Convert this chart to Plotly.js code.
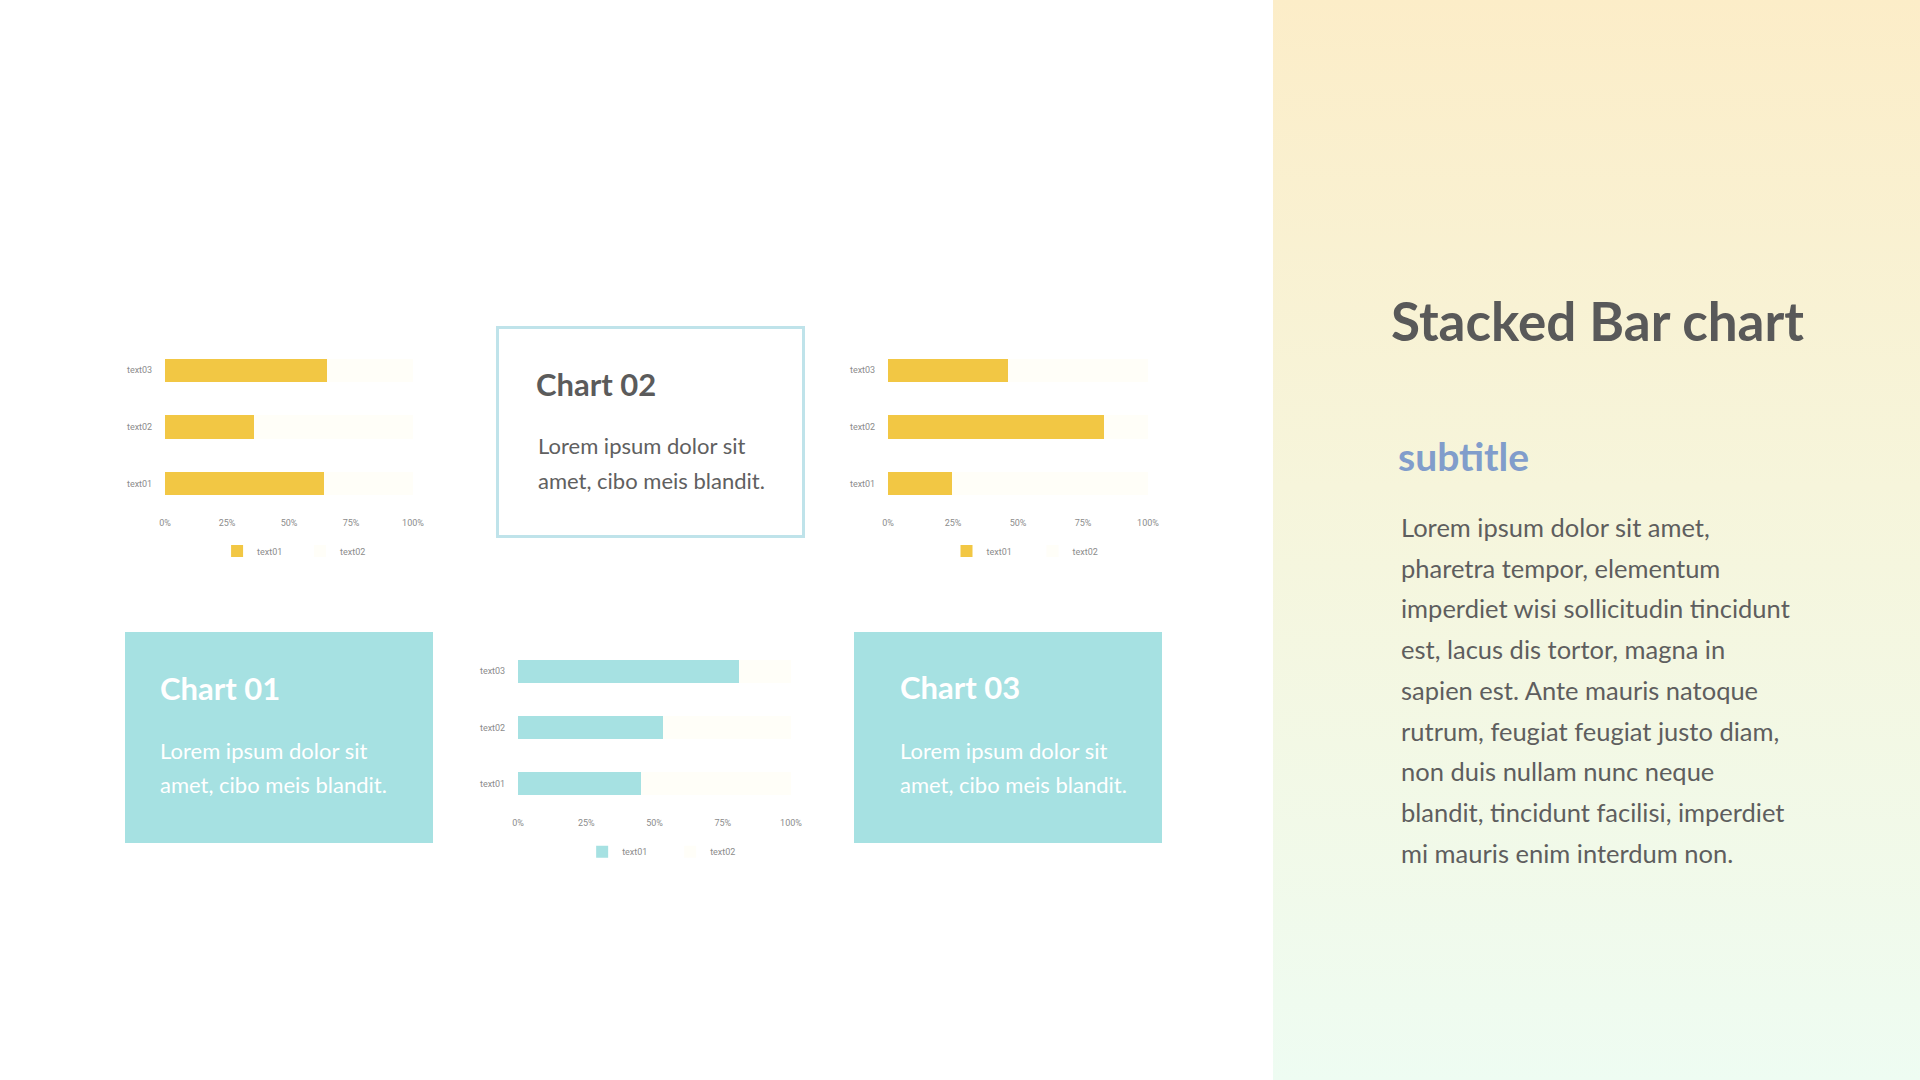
<!DOCTYPE html>
<html>
<head>
<meta charset="utf-8">
<script src="https://cdn.plot.ly/plotly-3.0.1.min.js"></script>
<style>
  html, body { margin: 0; padding: 0; }
  body { width: 1920px; height: 1080px; position: relative; overflow: hidden; background: #ffffff; font-family: 'Lato', 'Open Sans', sans-serif; }
  .panel { position: absolute; left: 1273px; top: 0; width: 647px; height: 1080px;
           background: linear-gradient(to bottom, #fcedc8 0%, #f6f5db 45%, #eefcf2 100%); }
  .abs { position: absolute; white-space: nowrap; }
  .box { position: absolute; box-sizing: border-box; }
  .chart { position: absolute; }
</style>
</head>
<body>
<div class="panel"></div>

<div class="abs" style="left:1391px; top:289px; font-size:53px; line-height:63px; font-weight:700; color:#595959;">Stacked Bar chart</div>
<div class="abs" style="left:1398px; top:433px; font-size:39px; line-height:46px; font-weight:700; color:#819dcb;">subtitle</div>
<div class="abs" style="left:1401px; top:507px; font-size:25.5px; line-height:40.7px; color:#5e5e5e;">
Lorem ipsum dolor sit amet,<br>pharetra tempor, elementum<br>imperdiet wisi sollicitudin tincidunt<br>est, lacus dis tortor, magna in<br>sapien est. Ante mauris natoque<br>rutrum, feugiat feugiat justo diam,<br>non duis nullam nunc neque<br>blandit, tincidunt facilisi, imperdiet<br>mi mauris enim interdum non.
</div>

<!-- text boxes -->
<div class="box" style="left:496px; top:326px; width:309px; height:212px; border:3px solid #bfe3ea; background:#fff;"></div>
<div class="abs" style="left:536px; top:366px; font-size:31px; line-height:37px; font-weight:700; color:#5b5b5b;">Chart 02</div>
<div class="abs" style="left:538px; top:428px; font-size:22px; line-height:35px; color:#606060;">Lorem ipsum dolor sit<br>amet, cibo meis blandit.</div>

<div class="box" style="left:125px; top:632px; width:308px; height:211px; background:#a6e1e2;"></div>
<div class="abs" style="left:160px; top:670px; font-size:31px; line-height:37px; font-weight:700; color:#ffffff;">Chart 01</div>
<div class="abs" style="left:160px; top:734px; font-size:22px; line-height:34px; color:#ffffff;">Lorem ipsum dolor sit<br>amet, cibo meis blandit.</div>

<div class="box" style="left:854px; top:632px; width:308px; height:211px; background:#a6e1e2;"></div>
<div class="abs" style="left:900px; top:669px; font-size:31px; line-height:37px; font-weight:700; color:#ffffff;">Chart 03</div>
<div class="abs" style="left:900px; top:734px; font-size:22px; line-height:34px; color:#ffffff;">Lorem ipsum dolor sit<br>amet, cibo meis blandit.</div>

<div id="chart-a" class="chart" style="left:115px; top:330px; width:320px; height:240px;"></div>
<div id="chart-b" class="chart" style="left:470px; top:630px; width:340px; height:240px;"></div>
<div id="chart-c" class="chart" style="left:840px; top:330px; width:320px; height:240px;"></div>

<script>
// Categories (bottom to top on the y axis)
const categories = ['text01', 'text02', 'text03'];
const seriesNames = ['text01', 'text02'];
const tickLabels = ['0%', '25%', '50%', '75%', '100%'];
const tickValues = [0, 25, 50, 75, 100];

// Share of text01 per category, text02 is the rest of 100%
const chartA_text01 = [64, 36, 65.5];
const chartA_text02 = [36, 64, 34.5];
const chartB_text01 = [45, 53, 81];
const chartB_text02 = [55, 47, 19];
const chartC_text01 = [24.5, 83, 46];
const chartC_text02 = [75.5, 17, 54];

const yellow = '#f2c744';
const teal = '#a6e1e2';
const paleFill = '#fffef8';

function makeChart(containerId, first, second, color, opts) {
  const traces = [
    {
      type: 'bar', orientation: 'h', name: seriesNames[0],
      y: categories, x: first,
      marker: { color: color, line: { width: 0 } },
      hoverinfo: 'skip'
    },
    {
      type: 'bar', orientation: 'h', name: seriesNames[1],
      y: categories, x: second,
      marker: { color: paleFill, line: { width: 0 } },
      hoverinfo: 'skip'
    }
  ];

  Plotly.newPlot(containerId, traces, {
    barmode: 'stack',
    bargap: 0.59,
    width: opts.width,
    height: 240,
    margin: { l: opts.l, r: opts.r, t: opts.t, b: opts.b, pad: 0, autoexpand: false },
    paper_bgcolor: 'rgba(0,0,0,0)',
    plot_bgcolor: 'rgba(0,0,0,0)',
    font: { family: 'Roboto, sans-serif', size: 9, color: '#8c8c8c' },
    xaxis: {
      range: [0, 100],
      tickvals: tickValues,
      ticktext: tickLabels,
      showgrid: false, zeroline: false, showline: false,
      ticks: 'outside', ticklen: 2, tickcolor: 'rgba(0,0,0,0)',
      tickfont: { size: 9, color: '#8c8c8c' },
      fixedrange: true
    },
    yaxis: {
      type: 'category',
      showgrid: false, zeroline: false, showline: false,
      ticks: 'outside', ticklen: 10, tickcolor: 'rgba(0,0,0,0)',
      tickfont: { size: 9, color: '#8c8c8c' },
      fixedrange: true
    },
    showlegend: true,
    legend: {
      orientation: 'h',
      x: opts.legendX, xanchor: 'left',
      y: opts.legendY, yanchor: 'middle',
      entrywidth: opts.entry, entrywidthmode: 'pixels',
      font: { size: 9, color: '#8c8c8c' },
      bgcolor: 'rgba(0,0,0,0)',
      traceorder: 'normal'
    }
  }, { displayModeBar: false, staticPlot: true });
}

makeChart('chart-a', chartA_text01, chartA_text02, yellow,
  { width: 320, l: 50, r: 22, t: 12, b: 58, legendX: 0.21, legendY: -0.23, entry: 38 });
makeChart('chart-b', chartB_text01, chartB_text02, teal,
  { width: 340, l: 48, r: 19, t: 13, b: 58, legendX: 0.235, legendY: -0.235, entry: 43 });
makeChart('chart-c', chartC_text01, chartC_text02, yellow,
  { width: 320, l: 48, r: 12, t: 12, b: 58, legendX: 0.225, legendY: -0.23, entry: 41 });
</script>
</body>
</html>
